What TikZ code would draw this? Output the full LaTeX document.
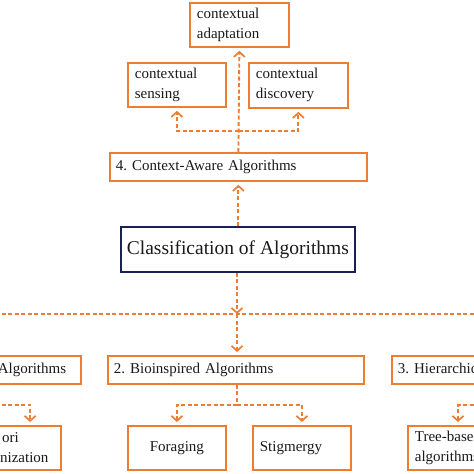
\documentclass[tikz,border=0pt]{standalone}
\usepackage{fontspec}
\setmainfont{Liberation Serif}
\usetikzlibrary{arrows.meta}
\definecolor{boxorange}{RGB}{237,125,49}
\definecolor{boxnavy}{RGB}{24,34,82}
\frenchspacing
\tikzset{
    orange box/.style = {draw=boxorange, line width=1.8pt, anchor=north west, inner xsep=7pt, inner ysep=0pt, align=left, font=\fontsize{15}{20}\selectfont, text=black!90},
    dashed link/.style = {draw=boxorange, line width=1.9pt, dash pattern=on 4pt off 2.5pt},
    up tip/.style = {-{Straight Barb[length=5pt, width=11pt, line width=1.7pt]}, shorten >=3pt}
}
\begin{document}
\begin{tikzpicture}[x=1pt, y=-1pt]
        \useasboundingbox (0,0) rectangle (474,474);
        \clip (0,0) rectangle (474,474);
        
        % top branch
        \node[orange box, text width=85pt, minimum height=44pt] (adapt) at (189, 2) {contextual\\adaptation};
        \node[orange box, text width=84pt, minimum height=44pt] (sense) at (127, 62) {contextual\\sensing};
        \node[orange box, text width=85pt, minimum height=45pt] (discover) at (248, 62) {contextual\\discovery};
        \node[orange box, text width=245pt, minimum height=28pt, inner xsep=6pt] (ctx) at (109, 152) {4. Context-Aware Algorithms};
        
        % root
        \node[draw=boxnavy, line width=1.8pt, anchor=north west, minimum width=234pt, minimum height=45pt, font=\fontsize{19.5}{22}\selectfont, text=black!90] (root) at (120, 226) {Classification of Algorithms};
        
        % second level
        \node[orange box, anchor=north east, text width=130pt, minimum height=28pt, align=right, inner xsep=15pt] (alg1) at (82, 355) {Algorithms};
        \node[orange box, text width=244pt, minimum height=28pt, inner xsep=6pt] (bio) at (107, 355) {2. Bioinspired Algorithms};
        \node[orange box, text width=180pt, minimum height=28pt, inner xsep=6pt] (hier) at (391, 355) {3. Hierarchical Algorithms};
        
        % leaves
        \node[orange box, anchor=north east, text width=60pt, minimum height=44pt, inner xsep=1pt] (opt) at (62, 425) {\hspace{2pt}ori\\nization};
        \node[orange box, text width=84pt, minimum height=44pt, align=center] (forage) at (127, 425) {Foraging};
        \node[orange box, text width=84pt, minimum height=44pt] (stig) at (252, 425) {Stigmergy};
        \node[orange box, text width=90pt, minimum height=44pt] (tree) at (407, 425) {Tree-based\\algorithms};
        
        \coordinate (jctx) at (238.5, 131);
        \coordinate (bus) at (237, 314);
        \coordinate (busL) at (-5, 314);
        \coordinate (busR) at (480, 314);
        \coordinate (jbio) at (237, 405);
        \coordinate (jopt) at (-5, 405);
        \coordinate (jtree) at (480, 405);
        
        \draw[dashed link, up tip] (root.north -| ctx.south) -- (ctx.south);
        \draw[dashed link, up tip] (ctx.north) -- (adapt.south);
        \draw[dashed link, up tip] (jctx) -| (sense.south);
        \draw[dashed link, up tip] (jctx) -| (discover.south);
        
        \draw[dashed link] (busL) -- (busR);
        \draw[dashed link, up tip, shorten >=0pt] (root.south -| bus) -- (bus);
        \draw[dashed link, up tip] (bus) -- (bio.north -| bus);
        
        \draw[dashed link] (bio.south -| jbio) -- (jbio);
        \draw[dashed link, up tip] (jbio) -| (forage.north);
        \draw[dashed link, up tip] (jbio) -| (stig.north);
        \draw[dashed link, up tip] (jopt) -| (opt.north);
        \draw[dashed link, up tip] (jtree) -| ([xshift=51pt]tree.north west);
    \end{tikzpicture}
\end{document}
